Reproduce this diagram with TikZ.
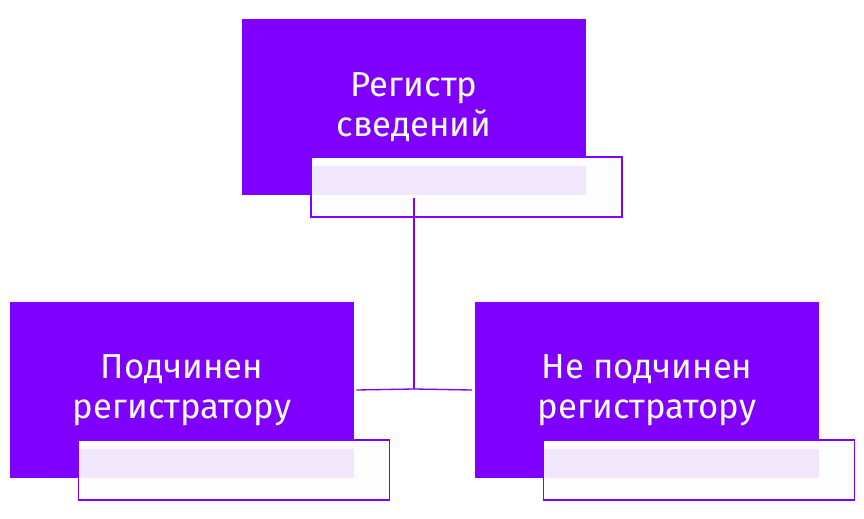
\documentclass[tikz,border=0pt]{standalone}
\usepackage{fontspec}
\setmainfont{Fira Sans}
\definecolor{vio}{HTML}{8000FF}
\definecolor{lav}{HTML}{F2E6FD}
\definecolor{paper}{HTML}{FDFDFD}
\tikzset{
  box/.style={fill=vio,text=white,minimum width=344*0.75pt,minimum height=176*0.75pt,
    inner sep=0pt,align=center,font=\fontsize{26}{30}\selectfont},
  tab/.style={fill=paper,draw=vio,line width=1pt,minimum width=311*0.75pt,minimum height=60*0.75pt,inner sep=0pt},
  link/.style={draw=vio,line width=1pt}
}
\begin{document}
\begin{tikzpicture}[x=0.75pt,y=-0.75pt]
  \useasboundingbox (0,0) rectangle (864,518);
  % boxes
  \node[box] (top) at (414,107) {Регистр\\сведений};
  \node[box] (left) at (182,390) {Подчинен\\регистратору};
  \node[box] (right) at (647,390) {Не подчинен\\регистратору};
  % tabs
  \node[tab] (toptab) at (466.5,187) {};
  \node[tab] (lefttab) at (234,470) {};
  \node[tab] (righttab) at (699,470) {};
  \fill[lav] (312,166) rectangle (586,195);
  \fill[lav] (79,449) rectangle (354,478);
  \fill[lav] (544,449) rectangle (819,478);
  % connectors
  \coordinate (jn) at (414,389);
  \draw[link] (414,198) -- (jn);
  \draw[link] (left.east) ++(2,0) -- (jn) -- ([xshift=-2pt]right.west);
\end{tikzpicture}
\end{document}
